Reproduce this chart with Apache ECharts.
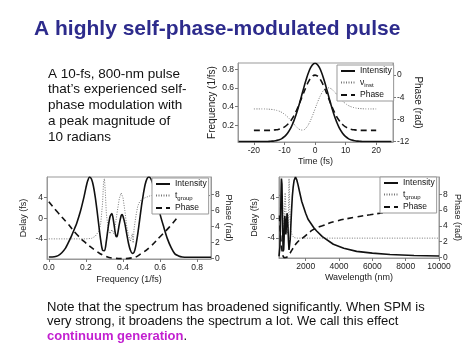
<!DOCTYPE html>
<html><head><meta charset="utf-8">
<script src="https://cdn.jsdelivr.net/npm/echarts@6/dist/echarts.min.js"></script>
<style>html,body{margin:0;padding:0;background:#fff}#c{width:474px;height:355px}</style>
</head><body><div id="c"></div>
<script>
// ---- Top chart: pulse vs time ----
const timeI = [-25,-24,-23,-22,-21,-20,-19,-18,-17,-16,-15,-14,-13,-12,-11,-10,-9,-8,-7,-6,-5,-4,-3,-2,-1,0,1,2,3,4,5,6,7,8,9,10,11,12,13,14,15,16,17,18,19,20,21,22,23,24,25];
const intensityT = [0.025,0.025,0.025,0.025,0.025,0.025,0.025,0.025,0.025,0.025,0.027,0.029,0.033,0.041,0.054,0.078,0.114,0.167,0.241,0.335,0.445,0.564,0.679,0.777,0.842,0.865,0.842,0.777,0.679,0.564,0.445,0.335,0.241,0.167,0.114,0.078,0.054,0.041,0.033,0.029,0.027,0.025,0.025,0.025,0.025,0.025,0.025,0.025,0.025,0.025,0.025];
const timeV = [-20,-19,-18,-17,-16,-15,-14,-13,-12,-11,-10,-9,-8,-7,-6,-5,-4,-3,-2,-1,0,1,2,3,4,5,6,7,8,9,10,11,12,13,14,15,16,17,18,19,20];
const vInst = [0.375,0.375,0.375,0.375,0.374,0.372,0.369,0.363,0.354,0.340,0.318,0.290,0.255,0.216,0.180,0.154,0.148,0.169,0.217,0.289,0.375,0.461,0.533,0.581,0.602,0.596,0.570,0.534,0.495,0.460,0.432,0.410,0.396,0.387,0.381,0.378,0.376,0.375,0.375,0.375,0.375];
const phaseT = [-10,-10,-10,-10,-10,-10,-9.96,-9.91,-9.82,-9.65,-9.375,-8.94,-8.30,-7.43,-6.31,-5.0,-3.58,-2.21,-1.05,-0.27,0,-0.27,-1.05,-2.21,-3.58,-5.0,-6.31,-7.43,-8.30,-8.94,-9.375,-9.65,-9.82,-9.91,-9.96,-10,-10,-10,-10,-10,-10];

// ---- Bottom-left: spectrum vs frequency ----
const freqI = [0,0.03,0.05,0.07,0.09,0.10,0.12,0.14,0.15,0.17,0.19,0.20,0.21,0.22,0.23,0.24,0.25,0.26,0.27,0.28,0.29,0.30,0.31,0.32,0.33,0.34,0.35,0.36,0.365,0.37,0.38,0.39,0.395,0.40,0.41,0.42,0.43,0.44,0.45,0.46,0.47,0.48,0.49,0.50,0.51,0.52,0.53,0.54,0.55,0.56,0.58,0.60,0.62,0.64,0.66,0.68,0.70,0.72,0.75,0.80,0.875];
const specI = [-7.5,-7.45,-7.25,-6.7,-5.8,-5.1,-3.6,-1.9,-1.0,1.3,4.2,5.9,7.3,8.0,7.6,6.3,4.2,1.5,-1.5,-4.3,-6.2,-6.3,-4.5,-1.8,0.3,0.9,-0.8,-3.2,-3.6,-3.3,-1.2,0.5,0.7,0.4,-1.0,-3.0,-4.9,-6.2,-6.8,-6.6,-5.2,-3.0,-0.3,2.4,4.7,6.6,7.7,8.0,7.7,6.8,4.0,0.8,-1.7,-4.0,-5.7,-6.9,-7.3,-7.5,-7.55,-7.55,-7.55];
const freqT = [0,0.10,0.20,0.23,0.25,0.27,0.28,0.29,0.295,0.30,0.305,0.31,0.32,0.33,0.34,0.35,0.36,0.37,0.38,0.39,0.40,0.41,0.42,0.43,0.44,0.45,0.455,0.46,0.47,0.48,0.49,0.50,0.52,0.55,0.60,0.875];
const tGroupF = [-4.0,-4.0,-4.0,-3.9,-3.5,-2.5,-1.0,3.0,7.0,7.7,5.0,1.0,-2.0,-3.0,-2.2,-3.0,-1.0,1.5,3.8,4.9,4.0,1.5,-1.5,-3.3,-4.5,-3.0,-4.8,-2.0,0.5,2.4,3.2,3.6,4.0,4.4,4.4,4.4];
const freqP = [0,0.05,0.10,0.15,0.20,0.25,0.30,0.35,0.40,0.45,0.50,0.55,0.60,0.65,0.70];
const phaseF = [7.1,5.7,4.4,3.0,1.9,1.0,0.3,0.0,-0.05,0.05,0.6,1.5,2.7,3.9,5.3];

// ---- Bottom-right: spectrum vs wavelength ----
const wlI = [400,430,455,469,484,500,517,536,545,556,566,577,588,600,612,625,638,652,667,682,698,714,732,750,760,769,789,811,822,833,857,882,909,938,968,1000,1034,1071,1111,1154,1200,1250,1304,1390,1460,1540,1640,1765,2000,2143,2500,2660,3000,3660,4286,5060,6000,7060,8500,10000];
const specW = [-7.55,-7.3,-5.7,-4.0,-1.7,0.8,4.0,6.8,7.7,8.0,7.7,6.6,4.7,2.4,-0.3,-3.0,-5.2,-6.6,-6.8,-6.2,-4.9,-3.0,-1.0,0.4,0.7,0.5,-1.2,-3.3,-3.6,-3.2,-0.8,0.9,0.3,-1.8,-4.5,-6.3,-6.2,-4.3,-1.5,1.5,4.2,6.0,7.3,8.0,7.5,6.5,5.0,3.2,0.9,-0.3,-2.0,-2.6,-3.7,-5.2,-6.0,-6.6,-6.95,-7.2,-7.4,-7.5];
const wlT = [400,545,577,600,612,625,638,652,659,667,682,698,714,732,750,769,789,811,833,857,882,909,938,968,984,1000,1017,1034,1071,1111,1200,1304,1500,10000];
const tGroupW = [4.4,4.4,4.0,3.6,3.2,2.4,0.5,-2.0,-4.8,-3.0,-4.5,-3.3,-1.5,1.5,4.0,4.9,3.8,1.5,-1.0,-3.0,-2.2,-3.0,-2.0,1.0,5.0,7.7,7.0,3.0,-1.0,-2.5,-3.5,-3.9,-4.0,-4.0];
const wlP = [430,460,500,545,600,667,750,857,1000,1200,1500,1850,2450,3000,3860,5000,5860,7000,8460,9300];
const phaseW = [5.3,3.9,2.7,1.5,0.6,0.05,-0.05,0.0,0.3,1.0,1.9,2.5,3.5,4.0,4.6,5.1,5.4,5.75,6.1,6.25];

// ---- tick labels ----
const timeTicks = [-20,-10,0,10,20];
const freqAxisTicks = [0.2,0.4,0.6,0.8];
const phaseTopTicks = [0,-4,-8,-12];
const freqTicks = [0,0.2,0.4,0.6,0.8];
const wlTicks = [2000,4000,6000,8000,10000];
const delayTicks = [4,0,-4];
const phaseBotTicks = [0,2,4,6,8];

const F = '"Liberation Sans", Arial, sans-serif';
const pairs = (xs, ys) => xs.map((x, i) => [x, ys[i]]);

function axis(o) {
  return {
    type: 'value', gridIndex: o.grid, min: o.min, max: o.max, position: o.pos,
    name: o.name, nameLocation: 'middle', nameGap: o.gap, nameRotate: o.rot,
    nameTextStyle: { fontSize: o.nameSize || 9, color: '#222', fontFamily: F },
    axisLine: { show: true, onZero: false, lineStyle: { color: '#999', width: 1 } },
    axisTick: { show: true, inside: false, length: 3, customValues: o.ticks, lineStyle: { color: '#777' } },
    axisLabel: { customValues: o.ticks, fontSize: 8.5, color: '#222', fontFamily: F, margin: o.margin || 4,
      formatter: o.fmt || (v => String(v)) },
    splitLine: { show: false }
  };
}

const solid = { color: '#111', width: 1.6 };
const dotted = { color: '#777', width: 1, type: [1, 1.5] };
const dashed = { color: '#111', width: 1.6, type: [6, 4] };
function line(name, xi, yi, data, ls, smooth) {
  return { type: 'line', name, xAxisIndex: xi, yAxisIndex: yi, data, symbol: 'none', showSymbol: false,
    lineStyle: ls, itemStyle: { color: ls.color }, smooth: smooth || false, animation: false, silent: true };
}

const legendBase = {
  orient: 'vertical', itemWidth: 14, itemHeight: 8, itemGap: 2.5,
  padding: [1.5, 2, 1.5, 3], backgroundColor: '#fff', borderColor: '#999', borderWidth: 1,
  selectedMode: false,
  itemStyle: { opacity: 0, color: 'rgba(0,0,0,0)', borderWidth: 0 },
  textStyle: { fontSize: 8.5, color: '#111', fontFamily: F,
    rich: { m: { fontSize: 8.5, fontFamily: F, color: '#111' }, s: { fontSize: 6, fontFamily: F, color: '#111', padding: [5, 0, 0, 0] } } },
  formatter: n => n === 'v_inst' ? '{m|\u03bd}{s|inst}' : (n === 't_group' ? '{m|t}{s|group}' : n)
};

const option = {
  animation: false,
  grid: [
    { left: 238, top: 63, width: 155, height: 79, show: true, borderColor: '#999', borderWidth: 1 },
    { left: 47, top: 177, width: 164, height: 82, show: true, borderColor: '#999', borderWidth: 1 },
    { left: 279, top: 177, width: 160, height: 81, show: true, borderColor: '#999', borderWidth: 1 }
  ],
  xAxis: [
    axis({ grid: 0, min: -25.2, max: 25.5, pos: 'bottom', name: 'Time (fs)', gap: 15, ticks: timeTicks }),
    axis({ grid: 1, min: -0.01, max: 0.875, pos: 'bottom', name: 'Frequency (1/fs)', gap: 16, ticks: freqTicks, fmt: v => v.toFixed(1) }),
    axis({ grid: 2, min: 400, max: 10000, pos: 'bottom', name: 'Wavelength (nm)', gap: 15, ticks: wlTicks })
  ],
  yAxis: [
    axis({ grid: 0, min: 0.02, max: 0.868, pos: 'left', name: 'Frequency (1/fs)', gap: 21, rot: 90, ticks: freqAxisTicks, nameSize: 10 }),
    axis({ grid: 0, min: -12.1, max: 2.2, pos: 'right', name: 'Phase (rad)', gap: 19, rot: -90, ticks: phaseTopTicks, nameSize: 10 }),
    axis({ grid: 1, min: -7.9, max: 8.0, pos: 'left', name: 'Delay (fs)', gap: 19, rot: 90, ticks: delayTicks }),
    axis({ grid: 1, min: -0.1, max: 10.2, pos: 'right', name: 'Phase (rad)', gap: 12, rot: -90, ticks: phaseBotTicks }),
    axis({ grid: 2, min: -7.9, max: 8.0, pos: 'left', name: 'Delay (fs)', gap: 20, rot: 90, ticks: delayTicks }),
    axis({ grid: 2, min: -0.1, max: 10.2, pos: 'right', name: 'Phase (rad)', gap: 14, rot: -90, ticks: phaseBotTicks })
  ],
  legend: [
    Object.assign({}, legendBase, { data: ['Intensity', 'v_inst', 'Phase'], left: 337, top: 65 }),
    Object.assign({}, legendBase, { data: ['Intensity', 't_group', 'Phase'], left: 152, top: 178 }),
    Object.assign({}, legendBase, { data: ['Intensity', 't_group', 'Phase'], left: 380, top: 177 })
  ],
  series: [
    line('v_inst', 0, 0, pairs(timeV, vInst), dotted, true),
    line('Phase', 0, 1, pairs(timeV, phaseT), dashed, true),
    line('Intensity', 0, 0, pairs(timeI, intensityT), solid, true),
    line('t_group', 1, 2, pairs(freqT, tGroupF), dotted, false),
    line('Phase', 1, 3, pairs(freqP, phaseF), dashed, true),
    line('Intensity', 1, 2, pairs(freqI, specI), solid, 0.3),
    line('t_group', 2, 4, pairs(wlT, tGroupW), dotted, false),
    line('Phase', 2, 5, pairs(wlP, phaseW), dashed, true),
    line('Intensity', 2, 4, pairs(wlI, specW), solid, false)
  ],
  graphic: [
    { type: 'text', left: 34, top: 19, style: { text: 'A highly self-phase-modulated pulse', font: 'bold 21px ' + F, fill: '#2d2b8c' } },
    { type: 'text', left: 48, top: 66, style: { text: "A 10-fs, 800-nm pulse\nthat\u2019s experienced self-\nphase modulation with\na peak magnitude of\n10 radians", font: '13.5px ' + F, fill: '#111', lineHeight: 15.8 } },
    { type: 'text', left: 47, top: 300, style: {
        text: 'Note that the spectrum has broadened significantly. When SPM is\nvery strong, it broadens the spectrum a lot. We call this effect\n{b|continuum generation}.',
        font: '13px ' + F, fill: '#111', lineHeight: 14.5,
        rich: { b: { fontWeight: 'bold', fill: '#c21fd0', fontSize: 13, fontFamily: F, lineHeight: 14.5 } } } }
  ]
};

const chart = echarts.init(document.getElementById('c'), null, { renderer: 'canvas' });
chart.setOption(option);
</script>
</body></html>
